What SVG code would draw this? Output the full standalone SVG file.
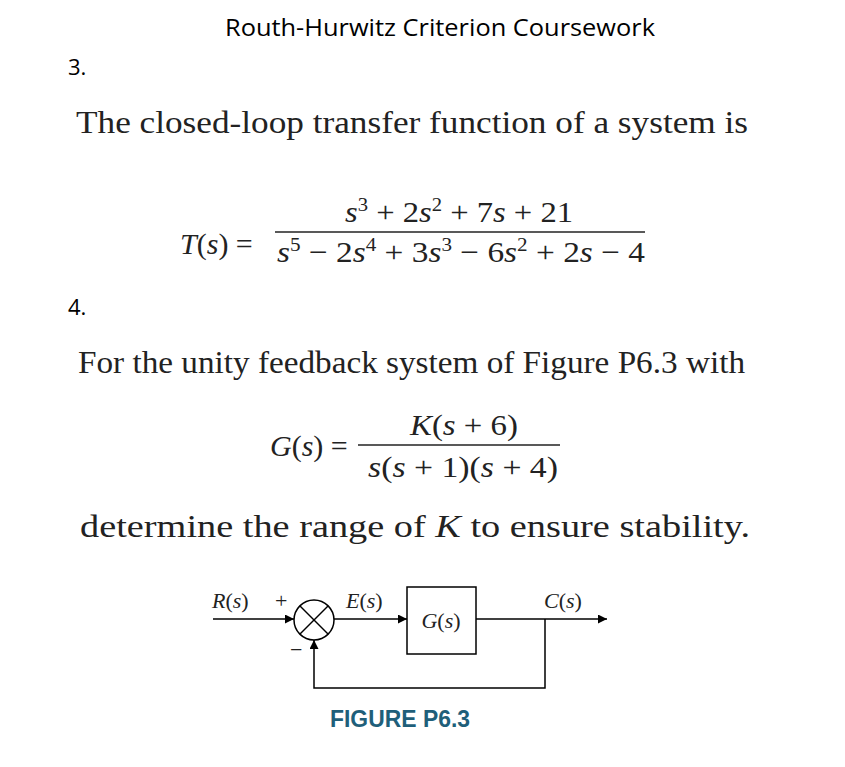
<svg xmlns="http://www.w3.org/2000/svg" width="845" height="767" viewBox="0 0 845 767">
<style>
.s{font-family:"Liberation Serif",serif;fill:#222;}
.i{font-style:italic;}
.c{font-family:"Open Sans","Liberation Sans",sans-serif;fill:#000;}
.ln{stroke:#000;stroke-width:1.5;fill:none;}
</style>
<defs><marker id="a" viewBox="0 0 10 10" refX="10" refY="5" markerWidth="14" markerHeight="9" markerUnits="userSpaceOnUse" orient="auto"><path d="M0,0L10,5L0,10z" fill="#000"/></marker></defs>
<rect width="845" height="767" fill="#fff"/>
<text class="c" x="225" y="36" font-size="23" textLength="430" lengthAdjust="spacingAndGlyphs">Routh-Hurwitz Criterion Coursework</text>
<text class="c" x="68" y="75" font-size="22">3.</text>
<text class="s" x="76" y="133" font-size="32" textLength="672" lengthAdjust="spacingAndGlyphs">The closed-loop transfer function of a system is</text>
<text class="s" x="180" y="254" font-size="30"><tspan class="i">T</tspan>(<tspan class="i">s</tspan>) =</text>
<text class="s" x="345" y="222" font-size="30" textLength="228" lengthAdjust="spacingAndGlyphs"><tspan class="i">s</tspan><tspan font-size="19" dy="-11">3</tspan><tspan dy="11"> + 2</tspan><tspan class="i">s</tspan><tspan font-size="19" dy="-11">2</tspan><tspan dy="11"> + 7</tspan><tspan class="i">s</tspan> + 21</text>
<line x1="275" y1="232" x2="645" y2="232" stroke="#222" stroke-width="1.5"/>
<text class="s" x="277" y="262" font-size="30" textLength="368" lengthAdjust="spacingAndGlyphs"><tspan class="i">s</tspan><tspan font-size="19" dy="-11">5</tspan><tspan dy="11"> − 2</tspan><tspan class="i">s</tspan><tspan font-size="19" dy="-11">4</tspan><tspan dy="11"> + 3</tspan><tspan class="i">s</tspan><tspan font-size="19" dy="-11">3</tspan><tspan dy="11"> − 6</tspan><tspan class="i">s</tspan><tspan font-size="19" dy="-11">2</tspan><tspan dy="11"> + 2</tspan><tspan class="i">s</tspan> − 4</text>
<text class="c" x="68" y="315" font-size="22">4.</text>
<text class="s" x="78" y="373" font-size="32" textLength="667" lengthAdjust="spacingAndGlyphs">For the unity feedback system of Figure P6.3 with</text>
<text class="s" x="270" y="456" font-size="30"><tspan class="i">G</tspan>(<tspan class="i">s</tspan>) =</text>
<text class="s" x="410" y="435" font-size="30" textLength="108" lengthAdjust="spacingAndGlyphs"><tspan class="i">K</tspan>(<tspan class="i">s</tspan> + 6)</text>
<line x1="358" y1="445" x2="560" y2="445" stroke="#222" stroke-width="1.5"/>
<text class="s" x="368" y="477" font-size="30" textLength="190" lengthAdjust="spacingAndGlyphs"><tspan class="i">s</tspan>(<tspan class="i">s</tspan> + 1)(<tspan class="i">s</tspan> + 4)</text>
<text class="s" x="80" y="537" font-size="32" textLength="670" lengthAdjust="spacingAndGlyphs">determine the range of <tspan class="i">K</tspan> to ensure stability.</text>
<g id="connectors">
<line class="ln" x1="213" y1="619" x2="294" y2="619" marker-end="url(#a)"/>
<line class="ln" x1="334" y1="619" x2="407" y2="619" marker-end="url(#a)"/>
<line class="ln" x1="476" y1="619" x2="607" y2="619" marker-end="url(#a)"/>
<polyline class="ln" points="545,619 545,688 314,688 314,640" marker-end="url(#a)"/>
</g>
<g id="sum">
<circle class="ln" cx="314" cy="620" r="20"/>
<line class="ln" x1="300" y1="606" x2="328" y2="634"/>
<line class="ln" x1="328" y1="606" x2="300" y2="634"/>
</g>
<g id="G">
<rect class="ln" x="407" y="587" width="69" height="67" stroke-width="2"/>
<text class="s" x="441" y="628" font-size="22" text-anchor="middle"><tspan class="i">G</tspan>(<tspan class="i">s</tspan>)</text>
</g>
<text class="s" x="212" y="608" font-size="22"><tspan class="i">R</tspan>(<tspan class="i">s</tspan>)</text>
<text class="s" x="275" y="608" font-size="22">+</text>
<text class="s" x="290" y="657" font-size="22">−</text>
<text class="s" x="346" y="608" font-size="22"><tspan class="i">E</tspan>(<tspan class="i">s</tspan>)</text>
<text class="s" x="544" y="608" font-size="22"><tspan class="i">C</tspan>(<tspan class="i">s</tspan>)</text>
<text x="330" y="727" font-family="'Liberation Sans',sans-serif" font-weight="bold" font-size="24" fill="#1f5f7a" textLength="140" lengthAdjust="spacingAndGlyphs">FIGURE P6.3</text>
</svg>
